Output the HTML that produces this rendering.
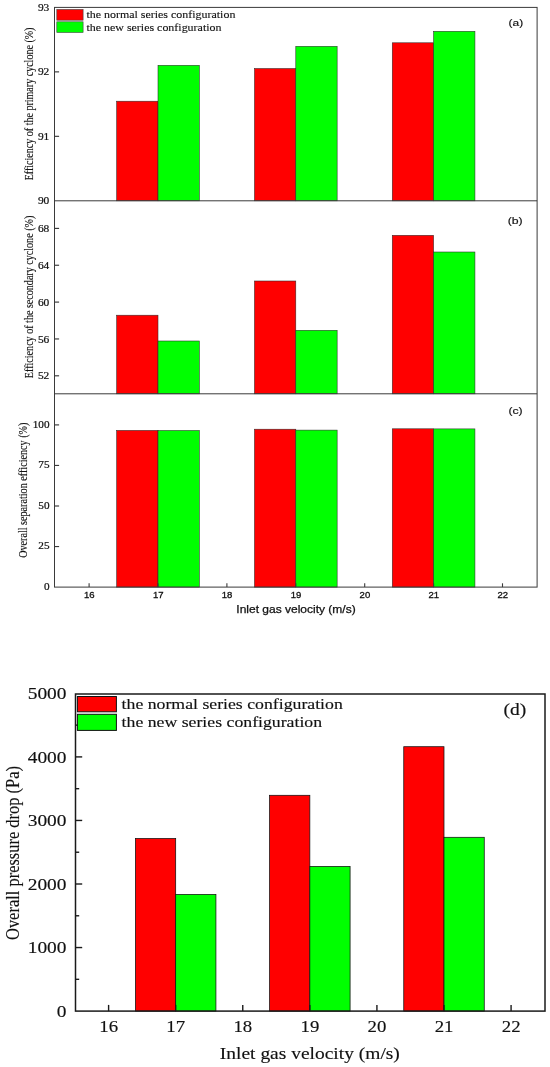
<!DOCTYPE html>
<html lang="en">
<head>
<meta charset="utf-8">
<title>Cyclone separator performance</title>
<style>
html,body{margin:0;padding:0;background:#fff;}
body{width:550px;height:1067px;overflow:hidden;}
svg{display:block;}
.ser{font-family:"Liberation Serif", serif;}
.san{font-family:"Liberation Sans", sans-serif;}
</style>
</head>
<body>
<svg width="550" height="1067" viewBox="0 0 550 1067">
<rect x="0" y="0" width="550" height="1067" fill="#ffffff"/>
<rect x="116.66" y="101.20" width="41.34" height="99.60" fill="#ff0000" stroke="#2a2a2a" stroke-width="0.55"/>
<rect x="158.00" y="65.30" width="41.34" height="135.50" fill="#00ff00" stroke="#2a2a2a" stroke-width="0.55"/>
<rect x="254.46" y="68.50" width="41.34" height="132.30" fill="#ff0000" stroke="#2a2a2a" stroke-width="0.55"/>
<rect x="295.80" y="46.30" width="41.34" height="154.50" fill="#00ff00" stroke="#2a2a2a" stroke-width="0.55"/>
<rect x="392.26" y="42.80" width="41.34" height="158.00" fill="#ff0000" stroke="#2a2a2a" stroke-width="0.55"/>
<rect x="433.60" y="31.30" width="41.34" height="169.50" fill="#00ff00" stroke="#2a2a2a" stroke-width="0.55"/>
<rect x="116.66" y="315.20" width="41.34" height="78.60" fill="#ff0000" stroke="#2a2a2a" stroke-width="0.55"/>
<rect x="158.00" y="341.00" width="41.34" height="52.80" fill="#00ff00" stroke="#2a2a2a" stroke-width="0.55"/>
<rect x="254.46" y="281.00" width="41.34" height="112.80" fill="#ff0000" stroke="#2a2a2a" stroke-width="0.55"/>
<rect x="295.80" y="330.30" width="41.34" height="63.50" fill="#00ff00" stroke="#2a2a2a" stroke-width="0.55"/>
<rect x="392.26" y="235.30" width="41.34" height="158.50" fill="#ff0000" stroke="#2a2a2a" stroke-width="0.55"/>
<rect x="433.60" y="252.00" width="41.34" height="141.80" fill="#00ff00" stroke="#2a2a2a" stroke-width="0.55"/>
<rect x="116.66" y="430.40" width="41.34" height="156.70" fill="#ff0000" stroke="#2a2a2a" stroke-width="0.55"/>
<rect x="158.00" y="430.50" width="41.34" height="156.60" fill="#00ff00" stroke="#2a2a2a" stroke-width="0.55"/>
<rect x="254.46" y="429.20" width="41.34" height="157.90" fill="#ff0000" stroke="#2a2a2a" stroke-width="0.55"/>
<rect x="295.80" y="430.10" width="41.34" height="157.00" fill="#00ff00" stroke="#2a2a2a" stroke-width="0.55"/>
<rect x="392.26" y="428.80" width="41.34" height="158.30" fill="#ff0000" stroke="#2a2a2a" stroke-width="0.55"/>
<rect x="433.60" y="428.90" width="41.34" height="158.20" fill="#00ff00" stroke="#2a2a2a" stroke-width="0.55"/>
<rect x="54.5" y="7.4" width="482.6" height="579.7" fill="none" stroke="#3a3a3a" stroke-width="1.0"/>
<line x1="54.50" y1="200.80" x2="537.10" y2="200.80" stroke="#3a3a3a" stroke-width="1.0"/>
<line x1="54.50" y1="393.80" x2="537.10" y2="393.80" stroke="#3a3a3a" stroke-width="1.0"/>
<line x1="54.50" y1="136.33" x2="59.10" y2="136.33" stroke="#3a3a3a" stroke-width="1.15"/>
<line x1="54.50" y1="71.87" x2="59.10" y2="71.87" stroke="#3a3a3a" stroke-width="1.15"/>
<text class="ser" x="49.3" y="204.4" font-size="11" text-anchor="end" textLength="11.4" lengthAdjust="spacingAndGlyphs" stroke="#111" stroke-width="0.22" fill="#111">90</text>
<text class="ser" x="49.3" y="139.93333333333334" font-size="11" text-anchor="end" textLength="11.4" lengthAdjust="spacingAndGlyphs" stroke="#111" stroke-width="0.22" fill="#111">91</text>
<text class="ser" x="49.3" y="75.46666666666667" font-size="11" text-anchor="end" textLength="11.4" lengthAdjust="spacingAndGlyphs" stroke="#111" stroke-width="0.22" fill="#111">92</text>
<text class="ser" x="49.3" y="11.000000000000005" font-size="11" text-anchor="end" textLength="11.4" lengthAdjust="spacingAndGlyphs" stroke="#111" stroke-width="0.22" fill="#111">93</text>
<line x1="54.50" y1="375.80" x2="59.10" y2="375.80" stroke="#3a3a3a" stroke-width="1.15"/>
<text class="ser" x="49.3" y="379.40000000000003" font-size="11" text-anchor="end" textLength="11.4" lengthAdjust="spacingAndGlyphs" stroke="#111" stroke-width="0.22" fill="#111">52</text>
<line x1="54.50" y1="338.95" x2="59.10" y2="338.95" stroke="#3a3a3a" stroke-width="1.15"/>
<text class="ser" x="49.3" y="342.55000000000007" font-size="11" text-anchor="end" textLength="11.4" lengthAdjust="spacingAndGlyphs" stroke="#111" stroke-width="0.22" fill="#111">56</text>
<line x1="54.50" y1="302.10" x2="59.10" y2="302.10" stroke="#3a3a3a" stroke-width="1.15"/>
<text class="ser" x="49.3" y="305.70000000000005" font-size="11" text-anchor="end" textLength="11.4" lengthAdjust="spacingAndGlyphs" stroke="#111" stroke-width="0.22" fill="#111">60</text>
<line x1="54.50" y1="265.25" x2="59.10" y2="265.25" stroke="#3a3a3a" stroke-width="1.15"/>
<text class="ser" x="49.3" y="268.85" font-size="11" text-anchor="end" textLength="11.4" lengthAdjust="spacingAndGlyphs" stroke="#111" stroke-width="0.22" fill="#111">64</text>
<line x1="54.50" y1="228.40" x2="59.10" y2="228.40" stroke="#3a3a3a" stroke-width="1.15"/>
<text class="ser" x="49.3" y="232.00000000000003" font-size="11" text-anchor="end" textLength="11.4" lengthAdjust="spacingAndGlyphs" stroke="#111" stroke-width="0.22" fill="#111">68</text>
<line x1="54.50" y1="546.55" x2="59.10" y2="546.55" stroke="#3a3a3a" stroke-width="1.15"/>
<line x1="54.50" y1="506.00" x2="59.10" y2="506.00" stroke="#3a3a3a" stroke-width="1.15"/>
<line x1="54.50" y1="465.45" x2="59.10" y2="465.45" stroke="#3a3a3a" stroke-width="1.15"/>
<line x1="54.50" y1="424.90" x2="59.10" y2="424.90" stroke="#3a3a3a" stroke-width="1.15"/>
<text class="ser" x="49.5" y="589.9" font-size="11" text-anchor="end" textLength="5.6" lengthAdjust="spacingAndGlyphs" stroke="#111" stroke-width="0.22" fill="#111">0</text>
<text class="ser" x="49.5" y="549.35" font-size="11" text-anchor="end" textLength="11.2" lengthAdjust="spacingAndGlyphs" stroke="#111" stroke-width="0.22" fill="#111">25</text>
<text class="ser" x="49.5" y="508.8" font-size="11" text-anchor="end" textLength="11.2" lengthAdjust="spacingAndGlyphs" stroke="#111" stroke-width="0.22" fill="#111">50</text>
<text class="ser" x="49.5" y="468.25000000000006" font-size="11" text-anchor="end" textLength="11.2" lengthAdjust="spacingAndGlyphs" stroke="#111" stroke-width="0.22" fill="#111">75</text>
<text class="ser" x="49.5" y="427.7" font-size="11" text-anchor="end" textLength="16.799999999999997" lengthAdjust="spacingAndGlyphs" stroke="#111" stroke-width="0.22" fill="#111">100</text>
<line x1="89.10" y1="587.10" x2="89.10" y2="583.30" stroke="#3a3a3a" stroke-width="1.1"/>
<text class="san" x="89.3" y="598.0" font-size="8.8" text-anchor="middle" textLength="10.6" lengthAdjust="spacingAndGlyphs" stroke="#111" stroke-width="0.3" fill="#111">16</text>
<line x1="158.00" y1="587.10" x2="158.00" y2="583.30" stroke="#3a3a3a" stroke-width="1.1"/>
<text class="san" x="158.2" y="598.0" font-size="8.8" text-anchor="middle" textLength="10.6" lengthAdjust="spacingAndGlyphs" stroke="#111" stroke-width="0.3" fill="#111">17</text>
<line x1="226.90" y1="587.10" x2="226.90" y2="583.30" stroke="#3a3a3a" stroke-width="1.1"/>
<text class="san" x="227.1" y="598.0" font-size="8.8" text-anchor="middle" textLength="10.6" lengthAdjust="spacingAndGlyphs" stroke="#111" stroke-width="0.3" fill="#111">18</text>
<line x1="295.80" y1="587.10" x2="295.80" y2="583.30" stroke="#3a3a3a" stroke-width="1.1"/>
<text class="san" x="296.0" y="598.0" font-size="8.8" text-anchor="middle" textLength="10.6" lengthAdjust="spacingAndGlyphs" stroke="#111" stroke-width="0.3" fill="#111">19</text>
<line x1="364.70" y1="587.10" x2="364.70" y2="583.30" stroke="#3a3a3a" stroke-width="1.1"/>
<text class="san" x="364.90000000000003" y="598.0" font-size="8.8" text-anchor="middle" textLength="10.6" lengthAdjust="spacingAndGlyphs" stroke="#111" stroke-width="0.3" fill="#111">20</text>
<line x1="433.60" y1="587.10" x2="433.60" y2="583.30" stroke="#3a3a3a" stroke-width="1.1"/>
<text class="san" x="433.8" y="598.0" font-size="8.8" text-anchor="middle" textLength="10.6" lengthAdjust="spacingAndGlyphs" stroke="#111" stroke-width="0.3" fill="#111">21</text>
<line x1="502.50" y1="587.10" x2="502.50" y2="583.30" stroke="#3a3a3a" stroke-width="1.1"/>
<text class="san" x="502.7" y="598.0" font-size="8.8" text-anchor="middle" textLength="10.6" lengthAdjust="spacingAndGlyphs" stroke="#111" stroke-width="0.3" fill="#111">22</text>
<text class="san" x="296" y="612.8" font-size="10.5" text-anchor="middle" textLength="119.4" lengthAdjust="spacingAndGlyphs" stroke="#111" stroke-width="0.25" fill="#111">Inlet gas velocity (m/s)</text>
<text class="ser" transform="translate(33.0 103.95) rotate(-90)" font-size="11.6" text-anchor="middle" textLength="152.8" lengthAdjust="spacingAndGlyphs" stroke="#111" stroke-width="0.12" fill="#111">Efficiency of the primary cyclone (%)</text>
<text class="ser" transform="translate(33.0 296.95) rotate(-90)" font-size="11.6" text-anchor="middle" textLength="162.4" lengthAdjust="spacingAndGlyphs" stroke="#111" stroke-width="0.12" fill="#111">Efficiency of the secondary cyclone (%)</text>
<text class="ser" transform="translate(26.9 490.25) rotate(-90)" font-size="11.6" text-anchor="middle" textLength="135.2" lengthAdjust="spacingAndGlyphs" stroke="#111" stroke-width="0.12" fill="#111">Overall separation efficiency (%)</text>
<text class="san" x="515.9" y="25.9" font-size="9.5" text-anchor="middle" textLength="14.6" lengthAdjust="spacingAndGlyphs" stroke="#111" stroke-width="0.15" fill="#111">(a)</text>
<text class="san" x="515.2" y="223.5" font-size="9.5" text-anchor="middle" textLength="15.0" lengthAdjust="spacingAndGlyphs" stroke="#111" stroke-width="0.15" fill="#111">(b)</text>
<text class="san" x="515.5" y="414.4" font-size="9.5" text-anchor="middle" textLength="14.2" lengthAdjust="spacingAndGlyphs" stroke="#111" stroke-width="0.15" fill="#111">(c)</text>
<rect x="56.80" y="9.40" width="26.30" height="10.80" fill="#ff0000" stroke="#444" stroke-width="0.6"/>
<rect x="56.80" y="21.80" width="26.30" height="10.70" fill="#00ff00" stroke="#444" stroke-width="0.6"/>
<text class="ser" x="86.4" y="18.4" font-size="11" textLength="149" lengthAdjust="spacingAndGlyphs" stroke="#111" stroke-width="0.12" fill="#111">the normal series configuration</text>
<text class="ser" x="86.4" y="30.9" font-size="11" textLength="135.1" lengthAdjust="spacingAndGlyphs" stroke="#111" stroke-width="0.12" fill="#111">the new series configuration</text>
<rect x="135.43" y="838.50" width="40.25" height="172.60" fill="#ff0000" stroke="#111" stroke-width="0.75"/>
<rect x="175.68" y="894.40" width="40.25" height="116.70" fill="#00ff00" stroke="#111" stroke-width="0.75"/>
<rect x="269.59" y="795.30" width="40.25" height="215.80" fill="#ff0000" stroke="#111" stroke-width="0.75"/>
<rect x="309.84" y="866.40" width="40.25" height="144.70" fill="#00ff00" stroke="#111" stroke-width="0.75"/>
<rect x="403.75" y="746.70" width="40.25" height="264.40" fill="#ff0000" stroke="#111" stroke-width="0.75"/>
<rect x="444.00" y="837.30" width="40.25" height="173.80" fill="#00ff00" stroke="#111" stroke-width="0.75"/>
<rect x="75.5" y="694.0" width="469.5" height="317.1" fill="none" stroke="#1a1a1a" stroke-width="1.5"/>
<line x1="75.50" y1="947.55" x2="82.20" y2="947.55" stroke="#1a1a1a" stroke-width="1.4"/>
<line x1="75.50" y1="884.00" x2="82.20" y2="884.00" stroke="#1a1a1a" stroke-width="1.4"/>
<line x1="75.50" y1="820.45" x2="82.20" y2="820.45" stroke="#1a1a1a" stroke-width="1.4"/>
<line x1="75.50" y1="756.90" x2="82.20" y2="756.90" stroke="#1a1a1a" stroke-width="1.4"/>
<line x1="75.50" y1="979.33" x2="79.20" y2="979.33" stroke="#1a1a1a" stroke-width="1.4"/>
<line x1="75.50" y1="915.78" x2="79.20" y2="915.78" stroke="#1a1a1a" stroke-width="1.4"/>
<line x1="75.50" y1="852.23" x2="79.20" y2="852.23" stroke="#1a1a1a" stroke-width="1.4"/>
<line x1="75.50" y1="788.68" x2="79.20" y2="788.68" stroke="#1a1a1a" stroke-width="1.4"/>
<line x1="75.50" y1="725.12" x2="79.20" y2="725.12" stroke="#1a1a1a" stroke-width="1.4"/>
<text class="ser" x="66.5" y="1016.7" font-size="17.3" text-anchor="end" textLength="9.7" lengthAdjust="spacingAndGlyphs" stroke="#111" stroke-width="0.15" fill="#111">0</text>
<text class="ser" x="66.5" y="953.1500000000001" font-size="17.3" text-anchor="end" textLength="38.8" lengthAdjust="spacingAndGlyphs" stroke="#111" stroke-width="0.15" fill="#111">1000</text>
<text class="ser" x="66.5" y="889.6" font-size="17.3" text-anchor="end" textLength="38.8" lengthAdjust="spacingAndGlyphs" stroke="#111" stroke-width="0.15" fill="#111">2000</text>
<text class="ser" x="66.5" y="826.0500000000001" font-size="17.3" text-anchor="end" textLength="38.8" lengthAdjust="spacingAndGlyphs" stroke="#111" stroke-width="0.15" fill="#111">3000</text>
<text class="ser" x="66.5" y="762.5000000000001" font-size="17.3" text-anchor="end" textLength="38.8" lengthAdjust="spacingAndGlyphs" stroke="#111" stroke-width="0.15" fill="#111">4000</text>
<text class="ser" x="66.5" y="698.95" font-size="17.3" text-anchor="end" textLength="38.8" lengthAdjust="spacingAndGlyphs" stroke="#111" stroke-width="0.15" fill="#111">5000</text>
<line x1="108.60" y1="1011.10" x2="108.60" y2="1004.90" stroke="#1a1a1a" stroke-width="1.4"/>
<text class="ser" x="108.69999999999999" y="1031.8" font-size="17.3" text-anchor="middle" textLength="18.8" lengthAdjust="spacingAndGlyphs" stroke="#111" stroke-width="0.15" fill="#111">16</text>
<line x1="175.68" y1="1011.10" x2="175.68" y2="1004.90" stroke="#1a1a1a" stroke-width="1.4"/>
<text class="ser" x="175.78" y="1031.8" font-size="17.3" text-anchor="middle" textLength="18.8" lengthAdjust="spacingAndGlyphs" stroke="#111" stroke-width="0.15" fill="#111">17</text>
<line x1="242.76" y1="1011.10" x2="242.76" y2="1004.90" stroke="#1a1a1a" stroke-width="1.4"/>
<text class="ser" x="242.85999999999999" y="1031.8" font-size="17.3" text-anchor="middle" textLength="18.8" lengthAdjust="spacingAndGlyphs" stroke="#111" stroke-width="0.15" fill="#111">18</text>
<line x1="309.84" y1="1011.10" x2="309.84" y2="1004.90" stroke="#1a1a1a" stroke-width="1.4"/>
<text class="ser" x="309.94000000000005" y="1031.8" font-size="17.3" text-anchor="middle" textLength="18.8" lengthAdjust="spacingAndGlyphs" stroke="#111" stroke-width="0.15" fill="#111">19</text>
<line x1="376.92" y1="1011.10" x2="376.92" y2="1004.90" stroke="#1a1a1a" stroke-width="1.4"/>
<text class="ser" x="377.02" y="1031.8" font-size="17.3" text-anchor="middle" textLength="18.8" lengthAdjust="spacingAndGlyphs" stroke="#111" stroke-width="0.15" fill="#111">20</text>
<line x1="444.00" y1="1011.10" x2="444.00" y2="1004.90" stroke="#1a1a1a" stroke-width="1.4"/>
<text class="ser" x="444.1" y="1031.8" font-size="17.3" text-anchor="middle" textLength="18.8" lengthAdjust="spacingAndGlyphs" stroke="#111" stroke-width="0.15" fill="#111">21</text>
<line x1="511.08" y1="1011.10" x2="511.08" y2="1004.90" stroke="#1a1a1a" stroke-width="1.4"/>
<text class="ser" x="511.18000000000006" y="1031.8" font-size="17.3" text-anchor="middle" textLength="18.8" lengthAdjust="spacingAndGlyphs" stroke="#111" stroke-width="0.15" fill="#111">22</text>
<text class="ser" x="309.85" y="1059" font-size="17.3" text-anchor="middle" textLength="180" lengthAdjust="spacingAndGlyphs" stroke="#111" stroke-width="0.15" fill="#111">Inlet gas velocity (m/s)</text>
<text class="ser" transform="translate(19.1 853.0) rotate(-90)" font-size="18.8" text-anchor="middle" textLength="174" lengthAdjust="spacingAndGlyphs" stroke="#111" stroke-width="0.15" fill="#111">Overall pressure drop (Pa)</text>
<text class="ser" x="514.8" y="715.4" font-size="17.3" text-anchor="middle" textLength="22.8" lengthAdjust="spacingAndGlyphs" stroke="#111" stroke-width="0.15" fill="#111">(d)</text>
<rect x="77.40" y="696.50" width="39.00" height="15.30" fill="#ff0000" stroke="#111" stroke-width="1.0"/>
<rect x="77.40" y="714.30" width="39.00" height="16.10" fill="#00ff00" stroke="#111" stroke-width="1.0"/>
<text class="ser" x="121.6" y="708.9" font-size="15.2" textLength="221.2" lengthAdjust="spacingAndGlyphs" stroke="#111" stroke-width="0.15" fill="#111">the normal series configuration</text>
<text class="ser" x="121.6" y="727.1" font-size="15.2" textLength="200.5" lengthAdjust="spacingAndGlyphs" stroke="#111" stroke-width="0.15" fill="#111">the new series configuration</text>
</svg>
</body>
</html>
